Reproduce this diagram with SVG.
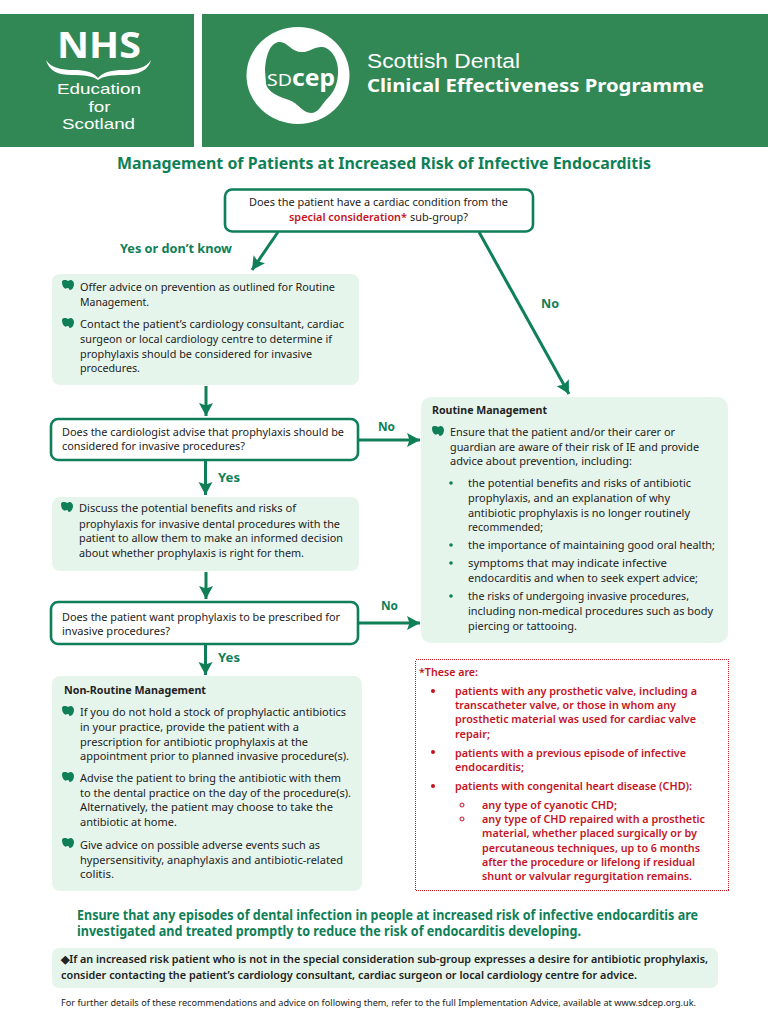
<svg xmlns="http://www.w3.org/2000/svg" width="768" height="1024" viewBox="0 0 768 1024">
<style>
text{font-family:"Noto Sans","Liberation Sans",sans-serif;font-size:10.6px;fill:#222;}
.b{font-weight:700}
.g{fill:#0f7f57;font-weight:700}
.r{fill:#c5141f;font-weight:600}
.w{fill:#fff}
.ls{font-family:"Liberation Sans",sans-serif}
.lt{fill:#e6f5ec}
.q{fill:#fff;stroke:#0f7f57;stroke-width:2.6}
.c{stroke:#0f7f57;stroke-width:3;fill:none;marker-end:url(#ah)}
.lab{font-size:12px}
</style>
<defs>
<marker id="ah" markerUnits="userSpaceOnUse" markerWidth="16" markerHeight="16" refX="13" refY="7" orient="auto"><path d="M0 0L13 7L0 14L2.500 7Z" fill="#0f7f57"/></marker>
<path id="tooth" d="M-6-3C-6-5-3-5.500-1-4.500C0-4 1-4 2-5C4-5.500 6-3.500 6-1C6 2 4 5 2 5C1 5 1 3 0 3C-1 3-2 4-3 3.500C-5 2.500-6 0-6-3Z" fill="#0f7f57"/>
</defs>
<g id="header">
<rect x="0" y="14" width="194" height="133" fill="#328855"/>
<rect x="202" y="14" width="566" height="133" fill="#328855"/>
<text x="99" y="58" text-anchor="middle" class="w b" style="font-size:36px" textLength="84" lengthAdjust="spacingAndGlyphs">NHS</text>
<path d="M46 60C51 68 62 70 74 70C85 70 93 72 98 78C103 72 112 70 124 70C136 70 146 68 151 60C149 70 138 75 124 75C112 75 103 76 98 80C93 76 84 75 72 75C58 75 49 71 46 60Z" fill="#fff"/>
<text x="99" y="94" text-anchor="middle" class="w ls" style="font-size:15px" textLength="84" lengthAdjust="spacingAndGlyphs">Education</text>
<text x="99.500" y="111.500" text-anchor="middle" class="w ls" style="font-size:15px" textLength="22" lengthAdjust="spacingAndGlyphs">for</text>
<text x="98.500" y="129" text-anchor="middle" class="w ls" style="font-size:15px" textLength="73" lengthAdjust="spacingAndGlyphs">Scotland</text>
<ellipse cx="298" cy="75.500" rx="51.500" ry="48.500" fill="#fff"/>
<path d="M265 70C266 55 270 43 279 42C287 41 291 52 302 52C310 52 315 46 323 47C333 49 339 62 338 74C337 88 332 94 326 100C321 106 318 113 311 113C303 113 298 103 289 100C277 96 268 92 266 84Z" fill="#328855"/>
<text x="267" y="86" class="w" style="font-size:16px" textLength="25" lengthAdjust="spacingAndGlyphs">SD</text>
<text x="292" y="86" class="w b" style="font-size:23px" textLength="43" lengthAdjust="spacingAndGlyphs">cep</text>
<text x="367" y="68" class="w ls" style="font-size:20px" textLength="153" lengthAdjust="spacingAndGlyphs">Scottish Dental</text>
<text x="367" y="92" class="w b" style="font-size:18.500px" textLength="337" lengthAdjust="spacingAndGlyphs">Clinical Effectiveness Programme</text>
</g>
<text id="title" x="117" y="169" class="g" style="font-size:16px" textLength="534" lengthAdjust="spacingAndGlyphs">Management of Patients at Increased Risk of Infective Endocarditis</text>
<g id="connectors">
<path class="c" d="M278 232L252 270"/>
<path class="c" d="M479 232L569 394"/>
<path class="c" d="M206 386V416"/>
<path class="c" d="M205.500 461V495"/>
<path class="c" d="M206 572V599"/>
<path class="c" d="M205.500 645V675"/>
<path class="c" d="M358 440H420"/>
<path class="c" d="M358 623H420"/>
</g>
<g id="labels">
<text x="120" y="253" class="g lab" textLength="112" lengthAdjust="spacingAndGlyphs">Yes or don’t know</text>
<text x="541" y="308" class="g lab" textLength="18" lengthAdjust="spacingAndGlyphs">No</text>
<text x="378" y="431" class="g lab" textLength="17" lengthAdjust="spacingAndGlyphs">No</text>
<text x="218" y="482" class="g lab" textLength="22" lengthAdjust="spacingAndGlyphs">Yes</text>
<text x="381" y="610" class="g lab" textLength="17" lengthAdjust="spacingAndGlyphs">No</text>
<text x="218" y="662" class="g lab" textLength="22" lengthAdjust="spacingAndGlyphs">Yes</text>
</g>
<g id="q1">
<rect class="q" x="225" y="189.500" width="308" height="42" rx="7"/>
<text x="249" y="206" textLength="259" lengthAdjust="spacingAndGlyphs">Does the patient have a cardiac condition from the</text>
<text x="289" y="221" class="r" textLength="118" lengthAdjust="spacingAndGlyphs">special consideration*</text>
<text x="410" y="221" textLength="58" lengthAdjust="spacingAndGlyphs">sub-group?</text>
</g>
<g id="box1">
<rect class="lt" x="52" y="274" width="307" height="111" rx="8"/>
<use href="#tooth" x="68" y="285"/>
<use href="#tooth" x="68" y="323"/>
<text x="80" y="291" textLength="255" lengthAdjust="spacingAndGlyphs">Offer advice on prevention as outlined for Routine</text>
<text x="80" y="306" textLength="69" lengthAdjust="spacingAndGlyphs">Management.</text>
<text x="80" y="328" textLength="264" lengthAdjust="spacingAndGlyphs">Contact the patient’s cardiology consultant, cardiac</text>
<text x="80" y="343" textLength="252" lengthAdjust="spacingAndGlyphs">surgeon or local cardiology centre to determine if</text>
<text x="80" y="358" textLength="232" lengthAdjust="spacingAndGlyphs">prophylaxis should be considered for invasive</text>
<text x="80" y="372" textLength="60" lengthAdjust="spacingAndGlyphs">procedures.</text>
</g>
<g id="q2">
<rect class="q" x="51" y="419" width="307" height="41" rx="7"/>
<text x="62" y="436" textLength="282" lengthAdjust="spacingAndGlyphs">Does the cardiologist advise that prophylaxis should be</text>
<text x="62" y="450" textLength="183" lengthAdjust="spacingAndGlyphs">considered for invasive procedures?</text>
</g>
<g id="box3">
<rect class="lt" x="52" y="497" width="307" height="74" rx="8"/>
<use href="#tooth" x="67" y="507"/>
<text x="79" y="512" textLength="217" lengthAdjust="spacingAndGlyphs">Discuss the potential benefits and risks of</text>
<text x="79" y="528" textLength="261" lengthAdjust="spacingAndGlyphs">prophylaxis for invasive dental procedures with the</text>
<text x="79" y="542" textLength="264" lengthAdjust="spacingAndGlyphs">patient to allow them to make an informed decision</text>
<text x="79" y="557" textLength="225" lengthAdjust="spacingAndGlyphs">about whether prophylaxis is right for them.</text>
</g>
<g id="q3">
<rect class="q" x="51" y="602" width="307" height="42" rx="7"/>
<text x="62" y="621" textLength="278" lengthAdjust="spacingAndGlyphs">Does the patient want prophylaxis to be prescribed for</text>
<text x="62" y="635" textLength="108" lengthAdjust="spacingAndGlyphs">invasive procedures?</text>
</g>
<g id="box5">
<rect class="lt" x="52" y="676" width="310" height="215" rx="8"/>
<text x="64" y="694" class="b" textLength="142" lengthAdjust="spacingAndGlyphs">Non-Routine Management</text>
<use href="#tooth" x="68" y="711"/>
<use href="#tooth" x="68" y="777"/>
<use href="#tooth" x="68" y="843"/>
<text x="80" y="716" textLength="266" lengthAdjust="spacingAndGlyphs">If you do not hold a stock of prophylactic antibiotics</text>
<text x="80" y="731" textLength="219" lengthAdjust="spacingAndGlyphs">in your practice, provide the patient with a</text>
<text x="80" y="746" textLength="228" lengthAdjust="spacingAndGlyphs">prescription for antibiotic prophylaxis at the</text>
<text x="80" y="760" textLength="269" lengthAdjust="spacingAndGlyphs">appointment prior to planned invasive procedure(s).</text>
<text x="80" y="782" textLength="261" lengthAdjust="spacingAndGlyphs">Advise the patient to bring the antibiotic with them</text>
<text x="80" y="797" textLength="271" lengthAdjust="spacingAndGlyphs">to the dental practice on the day of the procedure(s).</text>
<text x="80" y="811" textLength="253" lengthAdjust="spacingAndGlyphs">Alternatively, the patient may choose to take the</text>
<text x="80" y="826" textLength="97" lengthAdjust="spacingAndGlyphs">antibiotic at home.</text>
<text x="80" y="849" textLength="240" lengthAdjust="spacingAndGlyphs">Give advice on possible adverse events such as</text>
<text x="80" y="864" textLength="263" lengthAdjust="spacingAndGlyphs">hypersensitivity, anaphylaxis and antibiotic-related</text>
<text x="80" y="878" textLength="34" lengthAdjust="spacingAndGlyphs">colitis.</text>
</g>
<g id="routine">
<rect class="lt" x="421" y="397" width="307" height="246" rx="10"/>
<text x="432" y="414" class="b" textLength="115" lengthAdjust="spacingAndGlyphs">Routine Management</text>
<use href="#tooth" x="438" y="431"/>
<text x="450" y="436" textLength="225" lengthAdjust="spacingAndGlyphs">Ensure that the patient and/or their carer or</text>
<text x="450" y="451" textLength="249" lengthAdjust="spacingAndGlyphs">guardian are aware of their risk of IE and provide</text>
<text x="450" y="465" textLength="182" lengthAdjust="spacingAndGlyphs">advice about prevention, including:</text>
<circle cx="451" cy="483" r="1.800" fill="#0f7f57"/>
<circle cx="451" cy="545" r="1.800" fill="#0f7f57"/>
<circle cx="451" cy="563" r="1.800" fill="#0f7f57"/>
<circle cx="451" cy="596" r="1.800" fill="#0f7f57"/>
<text x="468" y="487" textLength="223" lengthAdjust="spacingAndGlyphs">the potential benefits and risks of antibiotic</text>
<text x="468" y="502" textLength="202" lengthAdjust="spacingAndGlyphs">prophylaxis, and an explanation of why</text>
<text x="468" y="517" textLength="222" lengthAdjust="spacingAndGlyphs">antibiotic prophylaxis is no longer routinely</text>
<text x="468" y="531" textLength="75" lengthAdjust="spacingAndGlyphs">recommended;</text>
<text x="468" y="549" textLength="247" lengthAdjust="spacingAndGlyphs">the importance of maintaining good oral health;</text>
<text x="468" y="567" textLength="199" lengthAdjust="spacingAndGlyphs">symptoms that may indicate infective</text>
<text x="468" y="582" textLength="230" lengthAdjust="spacingAndGlyphs">endocarditis and when to seek expert advice;</text>
<text x="468" y="600" textLength="221" lengthAdjust="spacingAndGlyphs">the risks of undergoing invasive procedures,</text>
<text x="468" y="615" textLength="245" lengthAdjust="spacingAndGlyphs">including non-medical procedures such as body</text>
<text x="468" y="630" textLength="109" lengthAdjust="spacingAndGlyphs">piercing or tattooing.</text>
</g>
<g id="special">
<rect x="415.500" y="659.500" width="313" height="231" fill="#fff" stroke="#c5141f" stroke-width="1" stroke-dasharray="1 1" shape-rendering="crispEdges"/>
<text x="419" y="676" class="r" textLength="59" lengthAdjust="spacingAndGlyphs">*These are:</text>
<circle cx="433" cy="691" r="2" fill="#c5141f"/>
<circle cx="433" cy="752" r="2" fill="#c5141f"/>
<circle cx="433" cy="786" r="2" fill="#c5141f"/>
<circle cx="462" cy="805" r="2" fill="none" stroke="#c5141f"/>
<circle cx="462" cy="819" r="2" fill="none" stroke="#c5141f"/>
<text x="455" y="695" class="r" textLength="242" lengthAdjust="spacingAndGlyphs">patients with any prosthetic valve, including a</text>
<text x="455" y="709" class="r" textLength="221" lengthAdjust="spacingAndGlyphs">transcatheter valve, or those in whom any</text>
<text x="455" y="723" class="r" textLength="241" lengthAdjust="spacingAndGlyphs">prosthetic material was used for cardiac valve</text>
<text x="455" y="738" class="r" textLength="35" lengthAdjust="spacingAndGlyphs">repair;</text>
<text x="455" y="757" class="r" textLength="231" lengthAdjust="spacingAndGlyphs">patients with a previous episode of infective</text>
<text x="455" y="771" class="r" textLength="69" lengthAdjust="spacingAndGlyphs">endocarditis;</text>
<text x="455" y="790" class="r" textLength="237" lengthAdjust="spacingAndGlyphs">patients with congenital heart disease (CHD):</text>
<text x="482" y="809" class="r" textLength="135" lengthAdjust="spacingAndGlyphs">any type of cyanotic CHD;</text>
<text x="482" y="823" class="r" textLength="223" lengthAdjust="spacingAndGlyphs">any type of CHD repaired with a prosthetic</text>
<text x="482" y="837" class="r" textLength="215" lengthAdjust="spacingAndGlyphs">material, whether placed surgically or by</text>
<text x="482" y="852" class="r" textLength="218" lengthAdjust="spacingAndGlyphs">percutaneous techniques, up to 6 months</text>
<text x="482" y="866" class="r" textLength="213" lengthAdjust="spacingAndGlyphs">after the procedure or lifelong if residual</text>
<text x="482" y="880" class="r" textLength="210" lengthAdjust="spacingAndGlyphs">shunt or valvular regurgitation remains.</text>
</g>
<g id="ensure">
<text x="77" y="920" class="g" style="font-size:13.500px" textLength="621" lengthAdjust="spacingAndGlyphs">Ensure that any episodes of dental infection in people at increased risk of infective endocarditis are</text>
<text x="77" y="936" class="g" style="font-size:13.500px" textLength="504" lengthAdjust="spacingAndGlyphs">investigated and treated promptly to reduce the risk of endocarditis developing.</text>
</g>
<g id="note">
<rect class="lt" x="52" y="948" width="666" height="40" rx="7"/>
<text x="61" y="963" style="font-weight:600" textLength="647" lengthAdjust="spacingAndGlyphs">◆If an increased risk patient who is not in the special consideration sub-group expresses a desire for antibiotic prophylaxis,</text>
<text x="61" y="979" style="font-weight:600" textLength="576" lengthAdjust="spacingAndGlyphs">consider contacting the patient’s cardiology consultant, cardiac surgeon or local cardiology centre for advice.</text>
</g>
<text id="footer" x="61" y="1006" style="font-size:9px" textLength="635" lengthAdjust="spacingAndGlyphs">For further details of these recommendations and advice on following them, refer to the full Implementation Advice, available at www.sdcep.org.uk.</text>
</svg>
